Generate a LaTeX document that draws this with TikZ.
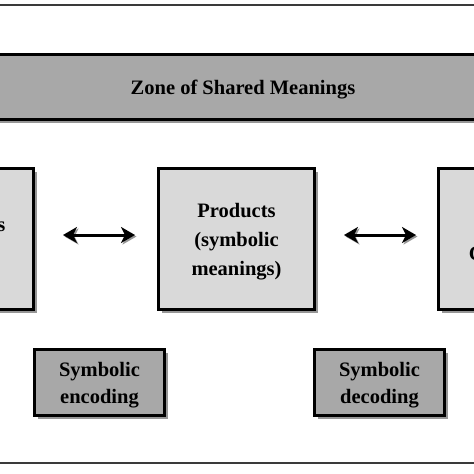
\documentclass[tikz,border=0pt]{standalone}
\usepackage{fontspec}
\setmainfont{Liberation Serif}
\usepackage{tikz}
\usetikzlibrary{arrows.meta,shadows,positioning}
\definecolor{bandgray}{HTML}{A8A8A8}
\definecolor{boxgray}{HTML}{D9D9D9}
\definecolor{shadegray}{HTML}{969696}
\definecolor{rulegray}{HTML}{3A3A3A}

\begin{document}
\begin{tikzpicture}[x=1pt, y=-1pt,
    every node/.style={font=\fontsize{20.5}{29}\selectfont\bfseries, align=center, inner sep=0pt, text depth=0pt},
    shaded/.style={drop shadow={shadow xshift=3pt, shadow yshift=-3pt, fill=shadegray, opacity=1}},
    bigbox/.style={draw, rectangle, line width=3pt, fill=boxgray, minimum height=141pt, shaded},
    smallbox/.style={draw, rectangle, line width=3pt, fill=bandgray, minimum width=130pt, minimum height=66pt, shaded, font=\fontsize{20.5}{27}\selectfont\bfseries},
    biarrow/.style={{Stealth[length=14pt,width=16pt,inset=4pt]}-{Stealth[length=14pt,width=16pt,inset=4pt]}, line width=3pt,
        preaction={draw=shadegray, transform canvas={shift={(1.5pt,-1.5pt)}}}}]
    \useasboundingbox (0,0) rectangle (474,474);
    % frame rules
    \draw[rulegray, line width=2.5pt] (0,5) -- (474,5);
    \draw[rulegray, line width=2.5pt] (0,463) -- (474,463);
    % band
    \node[draw, rectangle, line width=3pt, fill=bandgray, minimum width=526pt, minimum height=65pt, shaded] (zone) at (243,87) {Zone of Shared Meanings};
    % main boxes
    \node[bigbox, minimum width=146pt] (prod) at (-39.5,239) {Producers\\(firms)};
    \node[bigbox, minimum width=156pt] (goods) at (236.5,239) {Products\\(symbolic\\meanings)};
    \node[bigbox, minimum width=160pt] (cons) at (518.5,239) {Target\\Consumers};
    \draw[biarrow, shorten <=28pt, shorten >=22pt] ([yshift=4pt]prod.east) -- ([yshift=4pt]goods.west);
    \draw[biarrow, shorten <=28pt, shorten >=21pt] ([yshift=4pt]goods.east) -- ([yshift=4pt]cons.west);
    % encoding / decoding
    \node[smallbox] (enc) at (99.5,382.5) {Symbolic\\encoding};
    \node[smallbox] (dec) at (379.5,382.5) {Symbolic\\decoding};
\end{tikzpicture}
\end{document}
